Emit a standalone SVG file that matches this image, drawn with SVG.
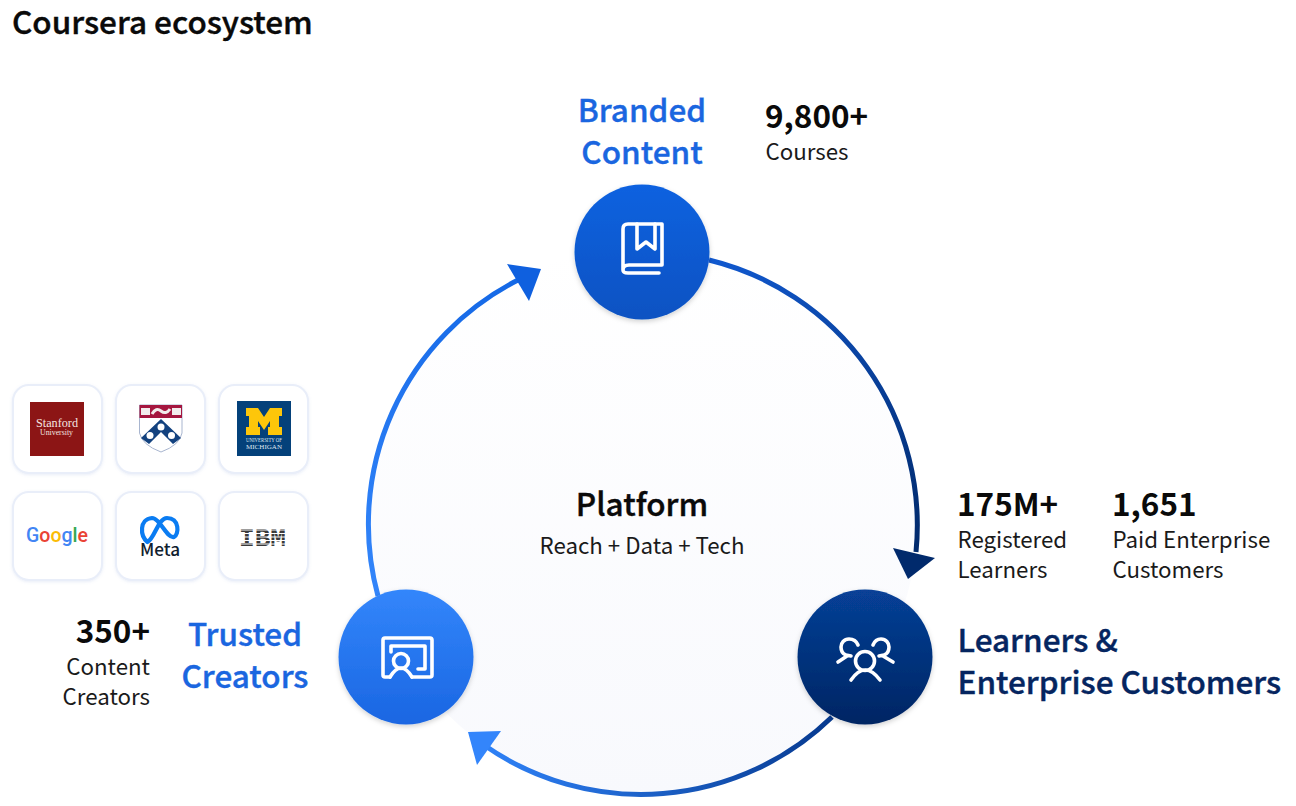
<svg xmlns="http://www.w3.org/2000/svg" width="1296" height="806" viewBox="0 0 1296 806">
<style>
text{font-family:"Noto Sans CJK SC","Noto Sans","Liberation Sans",sans-serif}
.t{font-size:31.500px;font-weight:500;fill:#0a0a0a;stroke:#0a0a0a;stroke-width:.4px}
.h{font-size:31.500px;font-weight:500;fill:#1a66e0;stroke:#1a66e0;stroke-width:.4px;text-anchor:middle}
.d{font-size:31.500px;font-weight:500;fill:#052560;stroke:#052560;stroke-width:.4px}
.n{font-size:31.500px;font-weight:700;fill:#0a0a0a}
.s{font-size:22.300px;fill:#1a1a1a}
.card{fill:#fff;stroke:#e9eef9;stroke-width:2}
.ic{fill:none;stroke:#fff;stroke-width:3.6;stroke-linecap:round;stroke-linejoin:round}
.arc{fill:none;stroke-width:5}
.lg{font-family:"Liberation Serif",serif}
</style>
<defs>
<linearGradient id="bg" x1="0" y1="0" x2="0" y2="1"><stop offset="0" stop-color="#fff"/><stop offset="1" stop-color="#f8f9fd"/></linearGradient>
<linearGradient id="n1" x1="0" y1="0" x2="0" y2="1"><stop offset="0" stop-color="#0f62e0"/><stop offset="1" stop-color="#0a52c2"/></linearGradient>
<linearGradient id="n2" x1="0" y1="0" x2="0" y2="1"><stop offset="0" stop-color="#074097"/><stop offset="1" stop-color="#012563"/></linearGradient>
<linearGradient id="n3" x1="0" y1="0" x2="0" y2="1"><stop offset="0" stop-color="#3386fb"/><stop offset="1" stop-color="#1a66e2"/></linearGradient>
<linearGradient id="a1" gradientUnits="userSpaceOnUse" x1="373" y1="595" x2="525" y2="283"><stop offset="0" stop-color="#3385fa"/><stop offset="1" stop-color="#1468e6"/></linearGradient>
<linearGradient id="a2" gradientUnits="userSpaceOnUse" x1="708" y1="260" x2="912" y2="550"><stop offset="0" stop-color="#1159d0"/><stop offset="1" stop-color="#012a6c"/></linearGradient>
<linearGradient id="a3" gradientUnits="userSpaceOnUse" x1="833" y1="716" x2="480" y2="742"><stop offset="0" stop-color="#06398f"/><stop offset="1" stop-color="#2f82f8"/></linearGradient>
<filter id="sh" x="-20%" y="-20%" width="140%" height="140%"><feDropShadow dx="0" dy="2" stdDeviation="2.5" flood-color="#000" flood-opacity=".18"/></filter>
<filter id="cs" x="-10%" y="-10%" width="120%" height="120%"><feDropShadow dx="0" dy="1" stdDeviation="1.5" flood-color="#8fa6d8" flood-opacity=".2"/></filter>
</defs>
<rect width="1296" height="806" fill="#fff"/>
<text class="t" x="12" y="34">Coursera ecosystem</text>

<circle cx="643" cy="522" r="274" fill="url(#bg)"/>

<g id="connectors">
<path class="arc" stroke="url(#a1)" d="M378 596A274 274 0 0 1 520 279"/>
<polygon fill="#0f60df" points="507,264 541,269 529,301"/>
<path class="arc" stroke="url(#a2)" d="M709 260A273 273 0 0 1 916 552"/>
<polygon fill="#012a6c" points="893,548 935,558 908,579"/>
<path class="arc" stroke="url(#a3)" d="M832 717A274 274 0 0 1 484 745"/>
<polygon fill="#3385fb" points="468,732 501,731 477,765"/>
</g>

<g id="platform">
<text class="t" x="642" y="516" text-anchor="middle">Platform</text>
<text x="642" y="554" class="s" text-anchor="middle">Reach + Data + Tech</text>
</g>

<g id="branded-content">
<circle cx="642" cy="252" r="67.500" fill="url(#n1)" filter="url(#sh)"/>
<g class="ic"><path d="M623 270V229Q623 224 628 224H662V265H629Q623 265 623 270Q623 273 628 273H659"/><path d="M637 224V249L646 242L655 249V224"/></g>
<text class="h" x="642" y="122">Branded</text>
<text class="h" x="642" y="164">Content</text>
<text class="n" x="765" y="128">9,800+</text>
<text class="s" x="765.500" y="160">Courses</text>
</g>

<g id="learners">
<circle cx="865" cy="657" r="67.500" fill="url(#n2)" filter="url(#sh)"/>
<g class="ic"><circle cx="865" cy="661" r="9.500"/><path d="M851 680Q865 660 880 680"/><path d="M858 645C856 640 852 639 849 639C844 639 841 643 841 647C841 651 843 654 846 655L851 656M847 656L838 662"/><path d="M873 645C875 640 878 639 881 639C886 639 889 643 889 647C889 651 887 654 884 655L879 656M883 656L893 662"/></g>
<text class="d" x="957.500" y="652">Learners &amp;</text>
<text class="d" x="957.500" y="694">Enterprise Customers</text>
<text class="n" x="957" y="516">175M+</text>
<text class="s" x="957.500" y="548">Registered</text>
<text class="s" x="957.500" y="578">Learners</text>
<text class="n" x="1112" y="516">1,651</text>
<text class="s" x="1112.500" y="548">Paid Enterprise</text>
<text class="s" x="1112.500" y="578">Customers</text>
</g>

<g id="trusted-creators">
<circle cx="406" cy="657" r="67.500" fill="url(#n3)" filter="url(#sh)"/>
<g class="ic"><path d="M390 677H385Q383 677 383 675V640Q383 638 385 638H430Q432 638 432 640V675Q432 677 430 677H412"/><path d="M391 652V646H425V669H418"/><circle cx="401" cy="661" r="7.500"/><path d="M390 677Q401 659 412 677"/></g>
<text class="h" x="245" y="646">Trusted</text>
<text class="h" x="245" y="688">Creators</text>
<text class="n" x="150" y="643" text-anchor="end">350+</text>
<text class="s" x="150" y="675" text-anchor="end">Content</text>
<text class="s" x="150" y="705" text-anchor="end">Creators</text>
</g>

<g id="logos">
<rect class="card" x="13" y="385" width="89" height="88" rx="16" filter="url(#cs)"/>
<rect class="card" x="116" y="385" width="89" height="88" rx="16" filter="url(#cs)"/>
<rect class="card" x="219" y="385" width="89" height="88" rx="16" filter="url(#cs)"/>
<rect class="card" x="13" y="492" width="89" height="88" rx="16" filter="url(#cs)"/>
<rect class="card" x="116" y="492" width="89" height="88" rx="16" filter="url(#cs)"/>
<rect class="card" x="219" y="492" width="89" height="88" rx="16" filter="url(#cs)"/>
<rect x="30" y="402" width="54" height="54" fill="#8c1515"/>
<text class="lg" x="36" y="427" font-size="11.500" fill="#f4e6e0" textLength="42" lengthAdjust="spacingAndGlyphs">Stanford</text>
<text class="lg" x="40" y="435" font-size="7.500" fill="#f4e6e0" textLength="33" lengthAdjust="spacingAndGlyphs">University</text>
<path d="M139.500 405H182V433Q180 445 161 452Q142 445 139.500 433Z" fill="#fff" stroke="#a8b5cf"/>
<rect x="139.500" y="405" width="42.500" height="13" fill="#a5163f"/>
<rect x="141" y="408" width="9" height="7" fill="#f2ecec"/><rect x="172" y="408" width="9" height="7" fill="#f2ecec"/><path d="M152 414Q156 407 161 411Q166 415 170 409" fill="none" stroke="#f2ecec" stroke-width="3"/>
<path d="M161 419L181 438L173 444L161 432L149 444L141 438Z" fill="#13427f"/>
<circle cx="161" cy="427" r="3.500" fill="#fff"/><circle cx="150" cy="435.500" r="3.500" fill="#fff"/><circle cx="171.500" cy="435.500" r="3.500" fill="#fff"/>
<rect x="237" y="401" width="54" height="55" fill="#04417a"/>
<path d="M246 408H258L264 417L270 408H282V416H279V427H282V435H268V427H270V421L264 430L258 421V427H260V435H246V427H249V416H246Z" fill="#fdc60a"/>
<text class="lg" x="246" y="442" font-size="5.500" fill="#dfe6ee" textLength="36" lengthAdjust="spacingAndGlyphs">UNIVERSITY OF</text>
<text class="lg" x="246" y="449" font-size="7" fill="#dfe6ee" textLength="36" lengthAdjust="spacingAndGlyphs">MICHIGAN</text>
<text x="26" y="542" font-size="21" font-weight="500" style="font-family:Roboto,sans-serif" textLength="62" lengthAdjust="spacingAndGlyphs"><tspan fill="#4285f4">G</tspan><tspan fill="#ea4335">o</tspan><tspan fill="#fbbc05">o</tspan><tspan fill="#4285f4">g</tspan><tspan fill="#34a853">l</tspan><tspan fill="#ea4335">e</tspan></text>
<path d="M147.500 542C140 536 139 519 152 518C160 518 167 539 174 537C179 535 180 518 167 518C158 518 155 538 147.500 542Z" fill="none" stroke="#0a7cf2" stroke-width="4.200" stroke-linejoin="round"/>
<text x="140" y="556" font-size="17" font-weight="500" fill="#10202e" textLength="40" lengthAdjust="spacingAndGlyphs">Meta</text>
<text x="239" y="546" font-size="26" font-weight="700" fill="#3a3a3a" textLength="47" lengthAdjust="spacingAndGlyphs" style="font-family:'Liberation Mono',monospace">IBM</text>
<g stroke="#fff" stroke-width="1.200"><path d="M236 530H290M236 533.500H290M236 537H290M236 540.500H290M236 544H290"/></g>
</g>
</svg>
